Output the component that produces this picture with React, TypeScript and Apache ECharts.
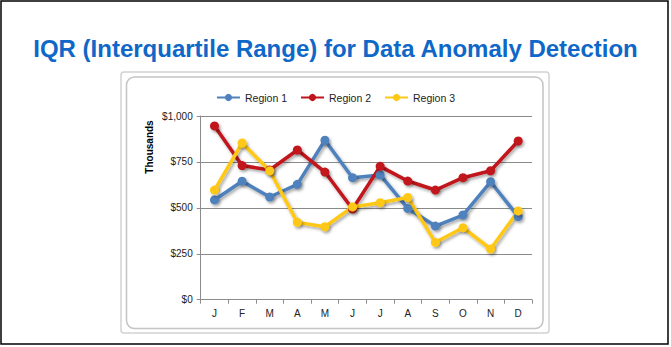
import React, { useEffect, useRef } from "react";
import * as echarts from "echarts";

const months = ["J", "F", "M", "A", "M", "J", "J", "A", "S", "O", "N", "D"];
const region1 = [543, 645, 559, 628, 868, 664, 679, 497, 401, 461, 642, 452];
const region2 = [946, 730, 706, 815, 695, 494, 726, 646, 597, 664, 702, 864];
const region3 = [597, 853, 702, 421, 397, 505, 528, 557, 312, 392, 276, 483];
const seriesNames = ["Region 1", "Region 2", "Region 3"];
const colors = ["#4F81BD", "#C0141C", "#FFC814"];
const titleText = "IQR (Interquartile Range) for Data Anomaly Detection";
const yAxisName = "Thousands";

export default function App() {
  const ref = useRef<HTMLDivElement>(null);
  useEffect(() => {
    if (!ref.current) return;
    const chart = echarts.init(ref.current, null, { renderer: "svg" });
    const font = "'Liberation Sans', Arial, sans-serif";
    const mk = (name: string, data: number[], color: string) => ({
      name,
      type: "line",
      data,
      symbol: "circle",
      symbolSize: 9,
      lineStyle: {
        width: 3.5,
        color,
        shadowColor: "rgba(0,0,0,0.35)",
        shadowBlur: 3,
        shadowOffsetX: 1.5,
        shadowOffsetY: 2,
      },
      itemStyle: {
        color,
        shadowColor: "rgba(0,0,0,0.35)",
        shadowBlur: 3,
        shadowOffsetX: 1.5,
        shadowOffsetY: 2,
      },
    });
    chart.setOption({
      animation: false,
      backgroundColor: "#ffffff",
      title: {
        text: titleText,
        left: "center",
        top: 31,
        textStyle: {
          fontFamily: font,
          fontSize: 24,
          fontWeight: "bold",
          color: "#0F67C8",
        },
      },
      legend: {
        top: 87,
        left: "center",
        itemWidth: 23,
        itemHeight: 9,
        itemGap: 13,
        textStyle: { fontFamily: font, fontSize: 10.5, color: "#222" },
        data: seriesNames,
      },
      graphic: [
        {
          type: "rect",
          shape: { x: 1, y: 1, width: 667, height: 343 },
          style: { fill: "none", stroke: "#000", lineWidth: 1.5 },
          silent: true,
          z: -10,
        },
        {
          type: "rect",
          shape: { x: 121, y: 72, width: 428, height: 261, r: 3 },
          style: { fill: "none", stroke: "#d2d2d2", lineWidth: 1.5 },
          silent: true,
          z: -10,
        },
        {
          type: "rect",
          shape: { x: 126.5, y: 77, width: 416.5, height: 251.5, r: 8 },
          style: { fill: "#fff", stroke: "#c4c4c4", lineWidth: 1.5 },
          silent: true,
          z: -9,
        },
        {
          type: "text",
          x: 149,
          y: 147,
          rotation: Math.PI / 2,
          style: {
            text: yAxisName,
            fontFamily: font,
            fontSize: 10,
            fontWeight: "bold",
            fill: "#000",
            align: "center",
            verticalAlign: "middle",
          },
        },
      ],
      grid: { left: 200.7, right: 139, top: 116, bottom: 47.3, containLabel: false },
      xAxis: {
        type: "category",
        data: months,
        boundaryGap: true,
        axisLine: { lineStyle: { color: "#8c8c8c", width: 1 } },
        axisTick: { show: true, length: 4, lineStyle: { color: "#8c8c8c" } },
        axisLabel: { fontFamily: font, fontSize: 10, color: "#222", margin: 9 },
      },
      yAxis: {
        type: "value",
        min: 0,
        max: 1000,
        interval: 250,
        axisLine: { show: true, lineStyle: { color: "#8c8c8c", width: 1 } },
        axisTick: { show: true, length: 4, lineStyle: { color: "#8c8c8c" } },
        splitLine: { lineStyle: { color: "#8a8a8a", width: 1 } },
        axisLabel: {
          fontFamily: font,
          fontSize: 10,
          color: "#222",
          margin: 8,
          formatter: (v: number) => "$" + v.toLocaleString("en-US"),
        },
      },
      series: [
        mk(seriesNames[0], region1, colors[0]),
        mk(seriesNames[1], region2, colors[1]),
        mk(seriesNames[2], region3, colors[2]),
      ],
    });
    return () => chart.dispose();
  }, []);
  return (
    <div
      ref={ref}
      style={{ position: "fixed", left: 0, top: 0, width: 671, height: 347 }}
    />
  );
}
